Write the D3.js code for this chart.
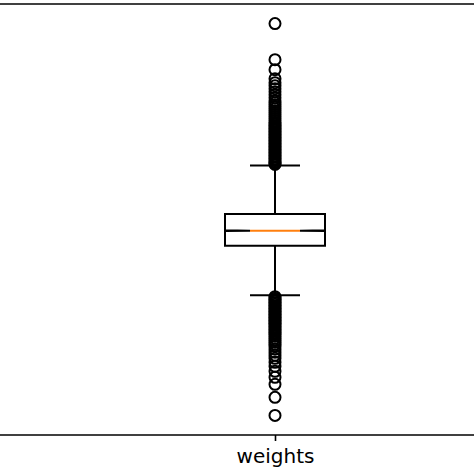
<!DOCTYPE html>
<meta charset="utf-8">
<style>
  body { margin: 0; background: #fff; }
  svg { display: block; }
  .outliers circle { fill: none; stroke: #000; stroke-width: 2px; }
</style>
<svg width="474" height="474"></svg>
<script src="https://d3js.org/d3.v7.min.js"></script>
<script>

  // one box, labelled "weights"
  var categories = ["weights"];

  // box statistics
  var median = [0.0];
  var q1 = [-0.0150];
  var q3 = [0.0167];
  var whiskerLow = [-0.0643];
  var whiskerHigh = [0.0652];
  var notchLow = [-0.0004];
  var notchHigh = [0.0004];

  // fliers above the upper whisker
  var outliersHigh = [
    0.2067, 0.1707, 0.1607, 0.1517, 0.1477, 0.1447, 0.1417, 0.1387, 0.1357, 0.1327,
    0.1297, 0.1277, 0.1257, 0.1237, 0.1217, 0.1197, 0.1177, 0.1157, 0.1137, 0.1117,
    0.1097, 0.1077, 0.1062, 0.1047, 0.1032, 0.1017, 0.1002, 0.0987, 0.0972, 0.0957,
    0.0942, 0.0927, 0.0912, 0.0897, 0.0882, 0.0867, 0.0852, 0.0837, 0.0822, 0.0807,
    0.0792, 0.0777, 0.0762, 0.0747, 0.0732, 0.0717, 0.0702, 0.0687, 0.0672, 0.0662
  ];

  // fliers below the lower whisker
  var outliersLow = [
    -0.0658, -0.0673, -0.0688, -0.0703, -0.0718, -0.0733, -0.0748, -0.0763, -0.0778, -0.0793,
    -0.0808, -0.0823, -0.0838, -0.0853, -0.0868, -0.0883, -0.0898, -0.0913, -0.0928, -0.0943,
    -0.0958, -0.0973, -0.0988, -0.1003, -0.1018, -0.1033, -0.1053, -0.1073, -0.1093, -0.1113,
    -0.1133, -0.1153, -0.1183, -0.1213, -0.1243, -0.1273, -0.1313, -0.1353, -0.1403, -0.1463,
    -0.1533, -0.1663, -0.1843
  ];

  var svg = d3.select("svg"),
    width = +svg.attr("width"),
    height = +svg.attr("height");

  var plotTop = 4, plotBottom = 435;

  var all = outliersHigh.concat(outliersLow, whiskerLow, whiskerHigh);
  var lo = d3.min(all), hi = d3.max(all), pad = (hi - lo) * 0.05;

  var y = d3.scaleLinear()
    .domain([lo - pad, hi + pad])
    .range([plotBottom, plotTop]);

  // positions 1..n, xlim 0.5..n+0.5 ; the figure is cropped so the range runs wider than the view
  var x = d3.scaleLinear()
    .domain([0.5, categories.length + 0.5])
    .range([75, 475]);

  var boxWidth = 0.25;

  // spines (top & bottom; left/right fall outside the crop)
  svg.append("g")
    .attr("class", "spines")
    .selectAll("line")
    .data([plotTop, plotBottom])
    .enter().append("line")
    .attr("x1", -10).attr("x2", width + 10)
    .attr("y1", function (d) { return d; })
    .attr("y2", function (d) { return d; })
    .style("stroke", "#000")
    .style("stroke-width", "1.6px");

  // x axis tick + label
  var xAxis = d3.axisBottom(x)
    .tickValues(d3.range(1, categories.length + 1))
    .tickFormat(function (d) { return categories[d - 1]; })
    .tickSize(6)
    .tickPadding(8);

  var gx = svg.append("g")
    .attr("transform", "translate(0," + plotBottom + ")")
    .call(xAxis);
  gx.select(".domain").remove();
  gx.selectAll(".tick line").style("stroke", "#000").style("stroke-width", "1.6px");
  gx.selectAll(".tick text")
    .style("font-family", "DejaVu Sans")
    .style("font-size", "20px")
    .style("fill", "#000")
    .attr("dy", "0.71em");

  var boxes = svg.append("g").attr("class", "boxes")
    .selectAll("g")
    .data(categories)
    .enter().append("g");

  boxes.each(function (name, i) {
    var g = d3.select(this),
      pos = i + 1,
      left = x(pos - boxWidth / 2), right = x(pos + boxWidth / 2),
      capL = x(pos - boxWidth / 4), capR = x(pos + boxWidth / 4),
      cx = x(pos);

    // whiskers
    g.selectAll("line.whisker")
      .data([[q1[i], whiskerLow[i]], [q3[i], whiskerHigh[i]]])
      .enter().append("line")
      .attr("class", "whisker")
      .attr("x1", cx).attr("x2", cx)
      .attr("y1", function (d) { return y(d[0]); })
      .attr("y2", function (d) { return y(d[1]); })
      .style("stroke", "#000").style("stroke-width", "2px");

    // caps
    g.selectAll("line.cap")
      .data([whiskerLow[i], whiskerHigh[i]])
      .enter().append("line")
      .attr("class", "cap")
      .attr("x1", capL).attr("x2", capR)
      .attr("y1", function (d) { return y(d); })
      .attr("y2", function (d) { return y(d); })
      .style("stroke", "#000").style("stroke-width", "2px");

    // notched box
    var pts = [
      [left, q1[i]], [right, q1[i]], [right, notchLow[i]], [capR, median[i]],
      [right, notchHigh[i]], [right, q3[i]], [left, q3[i]], [left, notchHigh[i]],
      [capL, median[i]], [left, notchLow[i]]
    ];
    g.append("path")
      .attr("d", d3.line().x(function (d) { return d[0]; }).y(function (d) { return y(d[1]); })(pts) + "Z")
      .style("fill", "none")
      .style("stroke", "#000")
      .style("stroke-width", "2px")
      .style("stroke-linejoin", "miter");

    // median
    g.append("line")
      .attr("x1", capL).attr("x2", capR)
      .attr("y1", y(median[i])).attr("y2", y(median[i]))
      .style("stroke", "#ff7f0e").style("stroke-width", "2px");

    // fliers
    g.append("g").attr("class", "outliers")
      .selectAll("circle")
      .data(outliersHigh.concat(outliersLow))
      .enter().append("circle")
      .attr("cx", cx)
      .attr("cy", function (d) { return y(d); })
      .attr("r", 5.5);
  });

</script>
